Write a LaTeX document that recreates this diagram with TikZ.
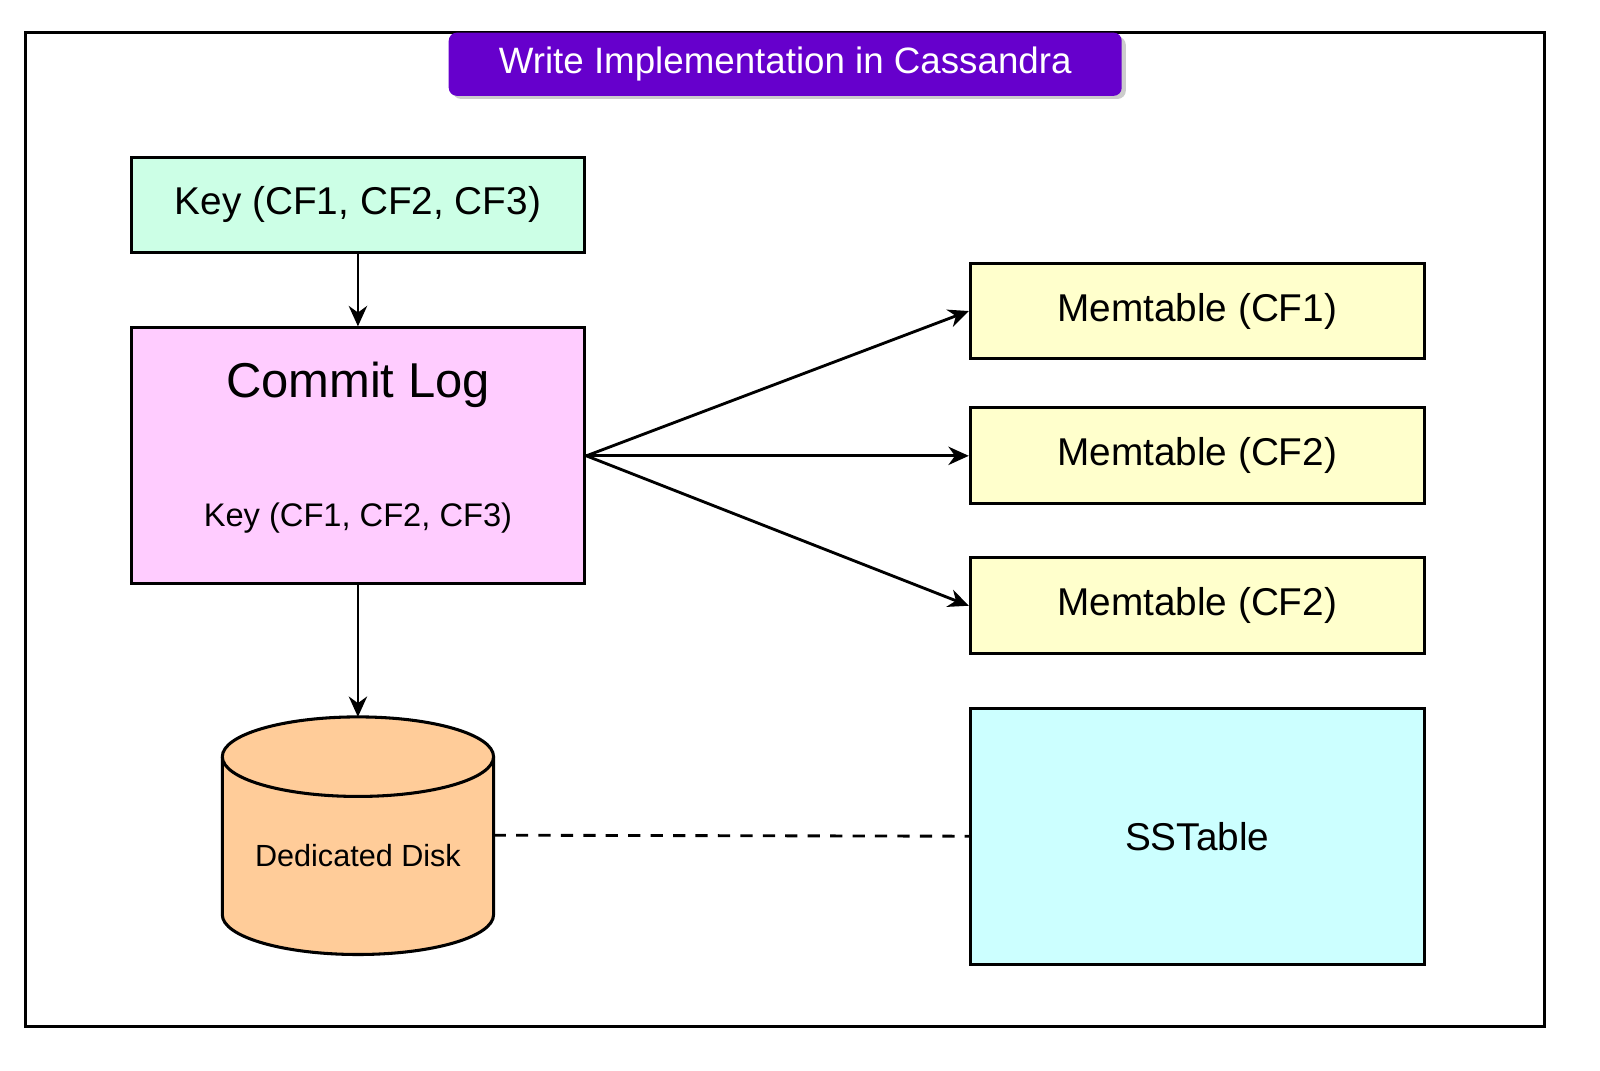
\documentclass[tikz,border=0pt]{standalone}
\usepackage{fontspec}
\setmainfont{Liberation Sans}
\usetikzlibrary{arrows.meta}
\definecolor{keyc}{HTML}{CCFFE6}
\definecolor{logc}{HTML}{FFCCFF}
\definecolor{memc}{HTML}{FFFFCC}
\definecolor{ssc}{HTML}{CCFFFF}
\definecolor{diskc}{HTML}{FFCC99}
\definecolor{titc}{HTML}{6600CC}
\begin{document}
\begin{tikzpicture}[x=0.5pt,y=-0.5pt,
  box/.style={draw,line width=1.5pt,inner sep=0pt,minimum width=227pt},
  arr/.style={-{Stealth[length=10pt,width=9pt]},line width=1.4pt}]
\useasboundingbox (0,0) rectangle (1569,1050);
\draw[line width=1.5pt] (25,32) rectangle (1515,1007);
\fill[black!20,rounded corners=4pt] (444,36) rectangle (1104,97);
\node[fill=titc,text=white,rounded corners=4pt,minimum width=330pt,minimum height=31pt,inner sep=0pt,font=\fontsize{18}{20}\selectfont] (title) at (770,63) {Write Implementation in Cassandra};
\node[box,fill=keyc,minimum width=222.5pt,minimum height=47pt,font=\fontsize{19}{22}\selectfont] (key) at (351,201) {Key (CF1, CF2, CF3)};
\node[box,fill=logc,minimum width=222.5pt,minimum height=125.5pt] (log) at (351,447) {};
\node[font=\fontsize{24}{28}\selectfont] (logt) at (351,377) {Commit Log};
\node[font=\fontsize{16}{19}\selectfont] (logk) at (351,508) {Key (CF1, CF2, CF3)};
\node[box,fill=memc,minimum width=222.5pt,minimum height=47pt,font=\fontsize{19}{22}\selectfont] (m1) at (1174,305) {Memtable (CF1)};
\node[box,fill=memc,minimum width=222.5pt,minimum height=47pt,font=\fontsize{19}{22}\selectfont] (m2) at (1174,447) {Memtable (CF2)};
\node[box,fill=memc,minimum width=222.5pt,minimum height=47pt,font=\fontsize{19}{22}\selectfont] (m3) at (1174,594) {Memtable (CF2)};
\node[box,fill=ssc,minimum width=222.5pt,minimum height=125.5pt,font=\fontsize{19}{22}\selectfont] (ss) at (1174,820) {SSTable};
% cylinder
\draw[line width=1.5pt,fill=diskc] (218,742) -- (218,897) arc[start angle=180,end angle=0,x radius=133,y radius=39] -- (484,742) arc[start angle=0,end angle=-180,x radius=133,y radius=39] -- cycle;
\draw[line width=1.5pt] (218,742) arc[start angle=180,end angle=0,x radius=133,y radius=39];
\coordinate (dtop) at (351,703);
\coordinate (dright) at (484,819);
\node[font=\fontsize{15}{18}\selectfont] (disk) at (351,839) {Dedicated Disk};
\draw[arr] (key) -- (log);
\draw[arr] (log.south) -- (dtop);
\draw[arr] (log.east) -- (m1.west);
\draw[arr] (log.east) -- (m2.west);
\draw[arr] (log.east) -- (m3.west);
\draw[line width=1.4pt,dash pattern=on 6pt off 5pt] (dright) -- (ss.west);
\end{tikzpicture}
\end{document}
